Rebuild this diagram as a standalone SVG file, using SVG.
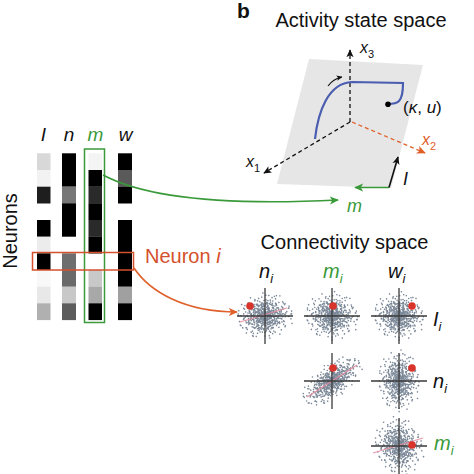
<svg xmlns="http://www.w3.org/2000/svg" xmlns:xlink="http://www.w3.org/1999/xlink" width="474" height="474" viewBox="0 0 474 474">
<style>
text{font-family:"Liberation Sans",Arial,sans-serif;fill:#111}
.it{font-style:italic}
.g{fill:#3a9a3a}
.o{fill:#d5502c}
.pts{fill:none;stroke:#7b8898;stroke-width:1.6;stroke-linecap:round;vector-effect:non-scaling-stroke}
.ax{stroke:#3a3a3a;stroke-width:1.3;fill:none}
.rd{fill:#d8342c}
.fit{stroke:#e48a9c;stroke-width:1.3;fill:none;opacity:.85}
.dash{stroke-dasharray:4 3;stroke-width:1.3;fill:none}
</style>
<defs>
<marker id="ak" viewBox="0 0 10 10" refX="9" refY="5" markerWidth="8" markerHeight="8" markerUnits="userSpaceOnUse" orient="auto"><path d="M0,0.5L10,5L0,9.5L2.5,5z" fill="#111"/></marker>
<marker id="aks" viewBox="0 0 10 10" refX="9" refY="5" markerWidth="6" markerHeight="6" markerUnits="userSpaceOnUse" orient="auto"><path d="M0,0.5L10,5L0,9.5L2.5,5z" fill="#111"/></marker>
<marker id="ag" viewBox="0 0 10 10" refX="9" refY="5" markerWidth="9" markerHeight="9" markerUnits="userSpaceOnUse" orient="auto"><path d="M0,0.5L10,5L0,9.5L2.5,5z" fill="#3a9a3a"/></marker>
<marker id="ao" viewBox="0 0 10 10" refX="9" refY="5" markerWidth="9" markerHeight="9" markerUnits="userSpaceOnUse" orient="auto"><path d="M0,0.5L10,5L0,9.5L2.5,5z" fill="#e0602a"/></marker>
<path id="p0" class="pts" d="M0.4 0.7h.01M3.2 -2.1h.01M-4.3 1.5h.01M5.1 4.2h.01M-2.2 -5.4h.01M1.3 6.1h.01M-6.5 -3.2h.01M7.2 -1.3h.01M-3.1 7.4h.01M4.4 -6.2h.01M-7.3 5.1h.01M2.1 3.3h.01M-1.2 -2.4h.01M6.3 2.2h.01M-5.1 -6.3h.01M0.2 -8.1h.01M8.4 5.3h.01M-8.2 0.3h.01M3.5 8.2h.01M-4.1 -4.4h.01M1.1 -4.2h.01M5.3 -3.4h.01M-6.1 3.6h.01M2.2 -7.3h.01M-2.4 4.1h.01M7.1 7.3h.01M-7.4 -7.1h.01M4.2 1.1h.01M-3.3 -1.2h.01M0.3 4.4h.01M10.2 -3.1h.01M-11.3 2.4h.01M9.1 8.3h.01M-9.4 -8.2h.01M12.1 4.4h.01M-12.3 -5.1h.01M3.4 12.2h.01M-4.2 -12.4h.01M11.3 -9.1h.01M-10.1 10.3h.01M14.2 1.4h.01M-14.1 -1.3h.01M6.4 -13.2h.01M-6.2 13.1h.01M13.3 -6.4h.01M-13.2 6.3h.01M8.1 11.2h.01M-8.3 -11.1h.01M0.4 14.3h.01M15.2 3.1h.01M-15.3 4.2h.01M5.1 15.2h.01M-5.4 -14.1h.01M10.3 6.2h.01M-10.2 -4.3h.01M12.4 -12.1h.01M-12.1 11.4h.01M9.3 -10.2h.01M-9.1 9.4h.01M14.1 -4.2h.01M-13.4 -9.1h.01M7.3 -12.2h.01M-7.1 12.3h.01M11.2 11.1h.01M-11.1 -11.3h.01M18.2 -5.3h.01M-18.1 3.2h.01M16.3 10.1h.01M-17.2 -9.4h.01M20.1 1.3h.01M-20.3 -2.1h.01M4.2 -18.3h.01M-3.4 19.1h.01M19.2 -12.1h.01M-16.1 15.2h.01M22.1 6.3h.01M-22.3 -6.1h.01M10.2 -19.4h.01M-10.4 18.1h.01M17.1 16.2h.01M-18.3 -14.1h.01M23.4 -3.2h.01M-23.1 8.2h.01M6.3 21.1h.01M-6.1 -21.3h.01M13.2 -17.1h.01M-14.3 17.2h.01M21.1 -9.3h.01M-19.2 11.1h.01"/>
<g id="cloud">
<use xlink:href="#p0"/>
<use xlink:href="#p0" transform="rotate(41) scale(0.85)"/>
<use xlink:href="#p0" transform="rotate(-70) scale(0.6)"/>
<use xlink:href="#p0" transform="rotate(152) scale(1.08)"/>
<use xlink:href="#p0" transform="rotate(103) scale(0.72)"/>
<use xlink:href="#p0" transform="rotate(-128) scale(1.15)"/>
</g>
</defs>
<rect width="474" height="474" fill="#fff"/>

<g id="matrix">
<g id="col-I">
<rect x="37" y="153.3" width="13.5" height="16.8" fill="#d8d8d8"/>
<rect x="37" y="170" width="13.5" height="16.8" fill="#f2f2f2"/>
<rect x="37" y="186.7" width="13.5" height="16.8" fill="#1e1e1e"/>
<rect x="37" y="220" width="13.5" height="16.8" fill="#000"/>
<rect x="37" y="236.7" width="13.5" height="16.8" fill="#ececec"/>
<rect x="37" y="253.3" width="13.5" height="16.8" fill="#000"/>
<rect x="37" y="270" width="13.5" height="16.8" fill="#f8f8f8"/>
<rect x="37" y="286.7" width="13.5" height="16.8" fill="#e8e8e8"/>
<rect x="37" y="303.3" width="13.5" height="16.8" fill="#b0b0b0"/>
</g>
<g id="col-n">
<rect x="62" y="153.3" width="14" height="33.4" fill="#000"/>
<rect x="62" y="186.7" width="14" height="16.8" fill="#777"/>
<rect x="62" y="203.3" width="14" height="33.4" fill="#000"/>
<rect x="62" y="253.3" width="14" height="16.8" fill="#6e6e6e"/>
<rect x="62" y="270" width="14" height="16.8" fill="#6a6a6a"/>
<rect x="62" y="286.7" width="14" height="16.8" fill="#c8c8c8"/>
<rect x="62" y="303.3" width="14" height="16.8" fill="#5c5c5c"/>
</g>
<g id="col-m">
<rect x="88.5" y="153.3" width="13.5" height="16.8" fill="#f4f4f4"/>
<rect x="88.5" y="170" width="13.5" height="16.8" fill="#000"/>
<rect x="88.5" y="186.7" width="13.5" height="16.8" fill="#2a2a2a"/>
<rect x="88.5" y="203.3" width="13.5" height="16.8" fill="#000"/>
<rect x="88.5" y="220" width="13.5" height="16.8" fill="#2a2a2a"/>
<rect x="88.5" y="236.7" width="13.5" height="16.8" fill="#000"/>
<rect x="88.5" y="270" width="13.5" height="16.8" fill="#c8c8c8"/>
<rect x="88.5" y="286.7" width="13.5" height="16.8" fill="#a8a8a8"/>
<rect x="88.5" y="303.3" width="13.5" height="16.8" fill="#000"/>
</g>
<g id="col-w">
<rect x="118" y="153.3" width="14" height="16.8" fill="#000"/>
<rect x="118" y="170" width="14" height="16.8" fill="#5a5a5a"/>
<rect x="118" y="186.7" width="14" height="16.8" fill="#000"/>
<rect x="118" y="220" width="14" height="66.8" fill="#000"/>
<rect x="118" y="286.7" width="14" height="16.8" fill="#a0a0a0"/>
<rect x="118" y="303.3" width="14" height="16.8" fill="#000"/>
</g>
<rect id="m-box" x="84.5" y="149" width="20" height="173.5" fill="none" stroke="#3a9a3a" stroke-width="1.5"/>
<rect id="neuron-box" x="32.5" y="252.5" width="101" height="17.5" fill="none" stroke="#d5502c" stroke-width="1.5"/>
<text class="it" x="43.5" y="141" font-size="19" text-anchor="middle">I</text>
<text class="it" x="69" y="141" font-size="19" text-anchor="middle">n</text>
<text class="it g" x="95.5" y="141" font-size="19" text-anchor="middle">m</text>
<text class="it" x="125.5" y="141" font-size="19" text-anchor="middle">w</text>
<text transform="translate(16.5,231) rotate(-90)" font-size="20" text-anchor="middle">Neurons</text>
<text class="o" x="145" y="263" font-size="20">Neuron <tspan class="it">i</tspan></text>
</g>

<g id="activity-space">
<text x="237" y="17.5" font-size="21" font-weight="bold">b</text>
<text x="361" y="27" font-size="20" text-anchor="middle">Activity state space</text>
<polygon id="plane" points="309,59 423,65 391,188 277,184" fill="#e6e6e6"/>
<path class="dash" stroke="#111" d="M350,122 L350,50" marker-end="url(#ak)"/>
<path class="dash" stroke="#111" d="M350,122 L264,173" marker-end="url(#ak)"/>
<path class="dash" stroke="#e0602a" d="M352,122 L425,153" marker-end="url(#ao)"/>
<path d="M315,139 C318,112 328,83 352,82 L403,83 C403,92 402,98 399,101 C396,104 392,104 388,104" fill="none" stroke="#4a5db0" stroke-width="2.2"/>
<circle cx="388" cy="104.3" r="2.8" fill="#000"/>
<path d="M328,86 Q333,79 342,77" fill="none" stroke="#111" stroke-width="1.2" marker-end="url(#aks)"/>
<text class="it" x="360" y="53" font-size="16">x<tspan font-size="11" dy="5" font-style="normal">3</tspan></text>
<text class="it" x="246" y="167" font-size="16">x<tspan font-size="11" dy="5" font-style="normal">1</tspan></text>
<text class="it" x="422" y="145" font-size="16" style="fill:#e0602a">x<tspan font-size="11" dy="5" font-style="normal">2</tspan></text>
<text x="403" y="113" font-size="17">(<tspan class="it">κ</tspan>, <tspan class="it">u</tspan>)</text>
<path d="M389,187.5 L355,187.5" fill="none" stroke="#3a9a3a" stroke-width="1.6" marker-end="url(#ag)"/>
<path d="M389,187.5 L398,157" fill="none" stroke="#111" stroke-width="1.6" marker-end="url(#ak)"/>
<text class="it" x="403" y="185" font-size="18">I</text>
<text class="it g" x="347" y="212" font-size="18">m</text>
</g>

<g id="connectors">
<path d="M103,175 C150,200 240,205 338,200" fill="none" stroke="#3a9a3a" stroke-width="1.6" marker-end="url(#ag)"/>
<path d="M134,268 C150,292 185,312 237,312" fill="none" stroke="#e0602a" stroke-width="1.6" marker-end="url(#ao)"/>
</g>

<g id="connectivity-space">
<text x="344.5" y="249" font-size="20" text-anchor="middle">Connectivity space</text>
<text class="it" x="259" y="278" font-size="20">n<tspan font-size="13" dy="5">i</tspan></text>
<text class="it g" x="323" y="278" font-size="20">m<tspan font-size="13" dy="5">i</tspan></text>
<text class="it" x="388" y="278" font-size="20">w<tspan font-size="13" dy="5">i</tspan></text>
<text class="it" x="433" y="326" font-size="20">I<tspan font-size="13" dy="5">i</tspan></text>
<text class="it" x="433" y="388" font-size="20">n<tspan font-size="13" dy="5">i</tspan></text>
<text class="it g" x="434" y="450" font-size="20">m<tspan font-size="13" dy="5">i</tspan></text>

<g id="plot-n-I">
<use xlink:href="#cloud" transform="translate(265,316) rotate(-12) scale(1.05,0.85)"/>
<path class="fit" d="M240,322 L287,308"/>
<path class="ax" d="M237,316H293M265,288V344"/>
<circle class="rd" cx="250" cy="306" r="3.8"/>
</g>
<g id="plot-m-I">
<use xlink:href="#cloud" transform="translate(332,316) scale(1,0.9)"/>
<path class="ax" d="M304,316H360M332,288V344"/>
<circle class="rd" cx="333" cy="306" r="3.8"/>
</g>
<g id="plot-w-I">
<use xlink:href="#cloud" transform="translate(399,316) scale(0.95,0.9)"/>
<path class="ax" d="M371,316H427M399,288V344"/>
<circle class="rd" cx="412" cy="306" r="3.8"/>
</g>
<g id="plot-m-n">
<use xlink:href="#cloud" transform="translate(332,381) rotate(-38) scale(1.3,0.62)"/>
<path class="fit" d="M307,397 L357,365"/>
<path class="ax" d="M304,381H360M332,353V409"/>
<circle class="rd" cx="333" cy="368" r="3.8"/>
</g>
<g id="plot-w-n">
<use xlink:href="#cloud" transform="translate(399,381) scale(0.78,1.15)"/>
<path class="ax" d="M371,381H427M399,353V409"/>
<circle class="rd" cx="412" cy="368" r="3.8"/>
</g>
<g id="plot-w-m">
<use xlink:href="#cloud" transform="translate(399,446) rotate(-15) scale(0.88,1.1)"/>
<path class="fit" d="M373,453 L423,438"/>
<path class="ax" d="M371,446H427M399,418V474"/>
<circle class="rd" cx="412" cy="445" r="3.8"/>
</g>
</g>
</svg>
